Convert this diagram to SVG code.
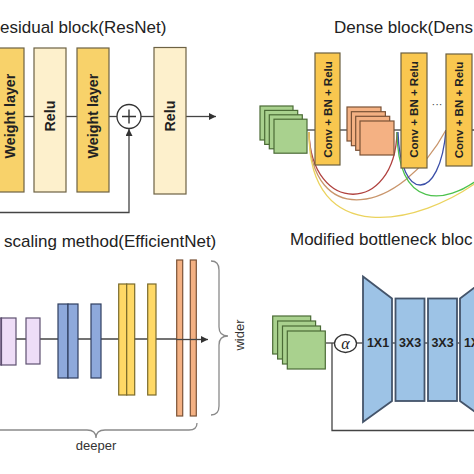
<svg xmlns="http://www.w3.org/2000/svg" width="474" height="474" viewBox="0 0 474 474">
<defs>
<marker id="arr" viewBox="0 0 10 10" refX="10" refY="5" markerWidth="7" markerHeight="7" markerUnits="userSpaceOnUse" orient="auto">
<path d="M0,0 L10,5 L0,10 Z" fill="#333"/>
</marker>
<style>
.title{font-family:"Liberation Sans",Arial,sans-serif;font-size:17px;fill:#222}
.lbl{font-family:"Liberation Sans",Arial,sans-serif;font-weight:bold;fill:#222;text-anchor:middle;dominant-baseline:central}
.rl{font-size:14.3px}
.cv{font-size:11.5px}
.bn{font-size:12.5px}
.ln{stroke:#444;stroke-width:1.3;fill:none}
.wl{fill:#F8D26A;stroke:#6d6244;stroke-width:1.2}
.re{fill:#FDF0CC;stroke:#6d6244;stroke-width:1.2}
.cb{fill:#F9C74F;stroke:#6b5f40;stroke-width:1.2}
.gs{fill:#A9D18E;stroke:#4b6b36;stroke-width:1.2}
.os{fill:#F4B183;stroke:#7a5236;stroke-width:1.2}
.pu{fill:#EEDDF7;stroke:#5e5070;stroke-width:1.2}
.bl{fill:#8EA9DB;stroke:#2f3f5f;stroke-width:1.2}
.ye{fill:#FFD966;stroke:#7a6a2a;stroke-width:1.2}
.bt{fill:#9DC3E6;stroke:#44546A;stroke-width:1.8}
.br{stroke:#8a8a8a;stroke-width:1.3;fill:none}
.sm{font-family:"Liberation Sans",Arial,sans-serif;font-size:13px;fill:#333}
</style>
</defs>
<rect width="474" height="474" fill="#ffffff"/>

<!-- titles -->
<text class="title" x="0" y="33">esidual block(ResNet)</text>
<text class="title" x="334" y="33">Dense block(Dens</text>
<text class="title" x="4" y="247">scaling method(EfficientNet)</text>
<text class="title" x="290" y="245">Modified bottleneck bloc</text>

<!-- connectors -->
<g id="connectors">
  <!-- residual -->
  <line class="ln" x1="24" y1="116.5" x2="34" y2="116.5"/>
  <line class="ln" x1="66" y1="116.5" x2="77" y2="116.5"/>
  <line class="ln" x1="109" y1="116.5" x2="117" y2="116.5"/>
  <line class="ln" x1="141" y1="116.5" x2="154" y2="116.5"/>
  <line class="ln" x1="186" y1="116.5" x2="216" y2="116.5" marker-end="url(#arr)"/>
  <polyline class="ln" points="-5,212.5 129,212.5 129,129" marker-end="url(#arr)"/>
  <!-- dense -->
  <line class="ln" x1="307" y1="130" x2="315" y2="130"/>
  <line class="ln" x1="340" y1="130" x2="347" y2="130"/>
  <line class="ln" x1="394" y1="130" x2="401" y2="130"/>
  <line class="ln" x1="472" y1="130" x2="474" y2="130"/>
  <path d="M309,132 C311,215 395,215 397,132" fill="none" stroke="#B0413E" stroke-width="1.3"/>
  <path d="M309,132 C310,230 400,215 446,130" fill="none" stroke="#C9956B" stroke-width="1.3"/>
  <path d="M309,132 C308,250 420,225 480,180" fill="none" stroke="#EBD35E" stroke-width="1.3"/>
  <path d="M397,132 C398,210 445,205 480,178" fill="none" stroke="#4DC24D" stroke-width="1.3"/>
  <path d="M398,132 C400,203 440,203 446,130" fill="none" stroke="#3B4FA8" stroke-width="1.3"/>
  <!-- efficientnet -->
  <line class="ln" x1="0" y1="339" x2="178" y2="339"/>
  <!-- bottleneck -->
  <line class="ln" x1="326" y1="343" x2="334.5" y2="343"/>
  <line class="ln" x1="356.5" y1="343" x2="363" y2="343"/>
  <line class="ln" x1="392" y1="343" x2="395.5" y2="343"/>
  <line class="ln" x1="424.5" y1="343" x2="428" y2="343"/>
  <line class="ln" x1="457" y1="343" x2="460" y2="343"/>
  <polyline class="ln" points="332,343 332,430.5 474,430.5"/>
</g>

<!-- residual block -->
<g id="res-weight1"><rect class="wl" x="-8" y="48" width="32" height="144"/>
<text class="lbl rl" transform="translate(10,116) rotate(-90)">Weight layer</text></g>
<g id="res-relu1"><rect class="re" x="34" y="48" width="32" height="144"/>
<text class="lbl rl" transform="translate(50,116) rotate(-90)">Relu</text></g>
<g id="res-weight2"><rect class="wl" x="77" y="48" width="32" height="144"/>
<text class="lbl rl" transform="translate(93,116) rotate(-90)">Weight layer</text></g>
<g id="res-add"><circle cx="129" cy="116.5" r="12" fill="#fff" stroke="#333" stroke-width="1.3"/>
<path d="M122,116.5 H136 M129,109.5 V123.5" stroke="#333" stroke-width="1.4"/></g>
<g id="res-relu2"><rect class="re" x="154" y="47.5" width="32" height="146.5"/>
<text class="lbl rl" transform="translate(170,116) rotate(-90)">Relu</text></g>

<!-- dense block -->
<g id="dense-green">
<rect class="gs" x="260" y="106" width="33" height="34"/>
<rect class="gs" x="264.7" y="110.4" width="33" height="34"/>
<rect class="gs" x="269.3" y="114.8" width="33" height="34"/>
<rect class="gs" x="274" y="119.2" width="33" height="34"/>
</g>
<g id="dense-conv1"><rect class="cb" x="315" y="53" width="25" height="112"/>
<text class="lbl cv" transform="translate(327.5,109.5) rotate(-90)">Conv + BN + Relu</text></g>
<g id="dense-orange">
<rect class="os" x="347" y="107" width="34" height="34"/>
<rect class="os" x="351.4" y="111.7" width="34" height="34"/>
<rect class="os" x="355.7" y="116.3" width="34" height="34"/>
<rect class="os" x="360" y="121" width="34" height="34"/>
</g>
<g id="dense-conv2"><rect class="cb" x="401" y="53" width="26" height="115"/>
<text class="lbl cv" transform="translate(414,109.5) rotate(-90)">Conv + BN + Relu</text></g>
<text x="437" y="108" font-family="Liberation Sans,Arial,sans-serif" font-size="11" fill="#444" text-anchor="middle">···</text>
<g id="dense-conv3"><rect class="cb" x="446" y="54" width="26" height="112"/>
<text class="lbl cv" transform="translate(459,110) rotate(-90)">Conv + BN + Relu</text></g>

<!-- efficientnet -->
<g id="eff-purple">
<rect x="-10" y="318" width="11.5" height="47" fill="#8d7a9d" stroke="#5e5070" stroke-width="1.2"/>
<rect class="pu" x="1.5" y="318" width="14.5" height="47"/>
<rect class="pu" x="26" y="318" width="14" height="46"/>
</g>
<g id="eff-blue">
<rect class="bl" x="58" y="304" width="10" height="74"/>
<rect class="bl" x="68" y="304" width="10" height="74"/>
<rect class="bl" x="91" y="304" width="10" height="74"/>
</g>
<g id="eff-yellow">
<rect class="ye" x="118.7" y="284" width="8" height="111"/>
<rect class="ye" x="126.7" y="284" width="8" height="111"/>
<rect class="ye" x="147.7" y="284" width="8.3" height="111"/>
</g>
<g id="eff-orange">
<rect class="os" x="176.7" y="260" width="6" height="156"/>
<rect class="os" x="190.3" y="260" width="6" height="156"/>
<line class="ln" x1="176" y1="339.5" x2="208" y2="339.5" marker-end="url(#arr)"/>
</g>
<g id="eff-wider">
<path class="br" d="M211,261 Q219,261 219,270 L219,327 Q219,336 228,336 Q219,336 219,345 L219,406 Q219,415 211,415"/>
<text class="sm" text-anchor="middle" dominant-baseline="central" transform="translate(239,335) rotate(-90)">wider</text>
</g>
<g id="eff-deeper">
<path class="br" d="M-10,430 L87,430 Q96,430 96,438 Q96,430 105,430 L189,430 Q197,430 197,423"/>
<text class="sm" x="96" y="450" text-anchor="middle">deeper</text>
</g>

<!-- bottleneck -->
<g id="bn-green">
<rect class="gs" x="272.7" y="316" width="38" height="38"/>
<rect class="gs" x="277.6" y="321" width="38" height="38"/>
<rect class="gs" x="282.5" y="326" width="38" height="38"/>
<rect class="gs" x="287.3" y="331" width="38" height="38"/>
</g>
<g id="bn-alpha"><ellipse cx="345.5" cy="343.5" rx="11" ry="9" fill="#fff" stroke="#333" stroke-width="1.3"/>
<text x="345.5" y="343.5" font-family="Liberation Serif,serif" font-style="italic" font-size="16" fill="#222" text-anchor="middle" dominant-baseline="central">α</text></g>
<g id="bn-1x1a"><polygon class="bt" points="363,276.5 392,298.5 392,401 363,422"/>
<text class="lbl bn" x="378" y="343">1X1</text></g>
<g id="bn-3x3a"><rect class="bt" x="395.5" y="298.5" width="29" height="102.5"/>
<text class="lbl bn" x="410" y="343">3X3</text></g>
<g id="bn-3x3b"><rect class="bt" x="428" y="298.5" width="29" height="102.5"/>
<text class="lbl bn" x="442.5" y="343">3X3</text></g>
<g id="bn-1x1b"><polygon class="bt" points="460,298.5 489,276.5 489,422 460,401"/>
<text class="lbl bn" x="475" y="343">1X1</text></g>
</svg>
